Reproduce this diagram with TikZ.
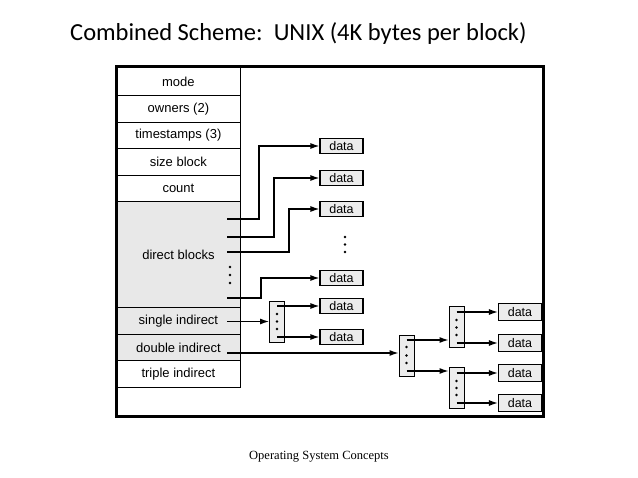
\documentclass[tikz,border=0pt]{standalone}
\usepackage{fontspec}
\setmainfont{Liberation Sans}
\newfontfamily\titlefont{Carlito}
\newfontfamily\footfont{Liberation Serif}
\usetikzlibrary{arrows.meta}

\tikzset{
  field/.style={draw,line width=0.8pt,anchor=north west,minimum width=124pt,inner sep=0pt,font=\fontsize{13}{15}\selectfont},
  datablk/.style={draw,line width=1.1pt,fill=gray!15,minimum width=43pt,minimum height=15pt,inner sep=0pt,font=\fontsize{12.5}{14}\selectfont},
  idxblk/.style={draw,line width=0.8pt,fill=gray!15,minimum width=15pt,minimum height=41pt,inner sep=0pt},
  ptr/.style={->,line width=1.3pt},
  dot/.style={circle,fill,inner sep=0pt,minimum size=2.6pt}
}

\begin{document}
\begin{tikzpicture}[x=1pt,y=-1pt,>={Latex[length=9pt,width=6pt]}]
  \useasboundingbox (0,0) rectangle (638,478);
  \node[anchor=base west,inner sep=0pt,font=\titlefont\fontsize{24.5}{29}\selectfont] (title) at (70,41) {Combined Scheme:\ \ UNIX (4K bytes per block)};
  \node[anchor=base,inner sep=0pt,font=\footfont\fontsize{12.5}{15}\selectfont] (foot) at (319,460) {Operating System Concepts};

  % inode fields
  \node[field,minimum height=28pt] (mode) at (116,67) {mode};
  \node[field,minimum height=27pt] (own) at (116,95) {owners (2)};
  \node[field,minimum height=26pt] (ts) at (116,122) {timestamps (3)};
  \node[field,minimum height=27pt] (size) at (116,148) {size block};
  \node[field,minimum height=26pt] (count) at (116,175) {count};
  \node[field,minimum height=106pt,fill=gray!18] (direct) at (116,201) {direct blocks};
  \node[field,minimum height=27pt,fill=gray!18] (single) at (116,307) {single indirect};
  \node[field,minimum height=26pt,fill=gray!18] (double) at (116,334) {double indirect};
  \node[field,minimum height=27pt] (triple) at (116,360) {triple indirect};
  \draw[line width=3pt] (116,67) rectangle (543,417);

  % data blocks
  \node[datablk] (d1) at (341.5,146) {data};
  \node[datablk] (d2) at (341.5,178) {data};
  \node[datablk] (d3) at (341.5,209) {data};
  \node[datablk] (d4) at (341.5,278) {data};
  \node[datablk] (d5) at (341.5,306) {data};
  \node[datablk] (d6) at (341.5,337) {data};
  \node[datablk,minimum height=17pt] (dA1) at (520,312) {data};
  \node[datablk,minimum height=17pt] (dA2) at (520,343) {data};
  \node[datablk,minimum height=17pt] (dB1) at (520,373) {data};
  \node[datablk,minimum height=17pt] (dB2) at (520,403) {data};

  % index blocks
  \node[idxblk] (iS) at (277,321.5) {};
  \node[idxblk] (iD) at (406.5,355.5) {};
  \node[idxblk] (iA) at (456.5,327) {};
  \node[idxblk] (iB) at (456.5,388) {};

  % dots
  \foreach \y in {267,275,283} \node[dot] at (230,\y) {};
  \foreach \y in {237,244.5,252} \node[dot] at (345,\y) {};
  \foreach \y in {314,321.5,329} \node[dot] at (277,\y) {};
  \foreach \y in {347,355.5,363} \node[dot] at (406.5,\y) {};
  \foreach \y in {320,327.5,335} \node[dot] at (456.5,\y) {};
  \foreach \y in {381,388,395} \node[dot] at (456.5,\y) {};

  % pointers
  \coordinate (p1) at (227,219);
  \coordinate (p2) at (227,237);
  \coordinate (p3) at (227,252);
  \coordinate (p4) at (227,298);
  \coordinate (ps) at (227,321.5);
  \coordinate (pd) at (227,353);
  \draw[ptr] (p1) -- ++(32,0) |- (d1.west);
  \draw[ptr] (p2) -- ++(47,0) |- (d2.west);
  \draw[ptr] (p3) -- ++(62,0) |- (d3.west);
  \draw[ptr] (p4) -- ++(34,0) |- (d4.west);
  \draw[ptr] (ps) -- (ps -| iS.west);
  \draw[ptr] (iS.center |- d5.west) -- (d5.west);
  \draw[ptr] (iS.center |- d6.west) -- (d6.west);
  \draw[ptr] (pd) -- (pd -| iD.west);
  \coordinate (it) at (406.5,340);
  \coordinate (ib) at (406.5,371);
  \draw[ptr] (it) -- (it -| iA.west);
  \draw[ptr] (ib) -- (ib -| iB.west);
  \draw[ptr] (iA.center |- dA1.west) -- (dA1.west);
  \draw[ptr] (iA.center |- dA2.west) -- (dA2.west);
  \draw[ptr] (iB.center |- dB1.west) -- (dB1.west);
  \draw[ptr] (iB.center |- dB2.west) -- (dB2.west);
\end{tikzpicture}
\end{document}
